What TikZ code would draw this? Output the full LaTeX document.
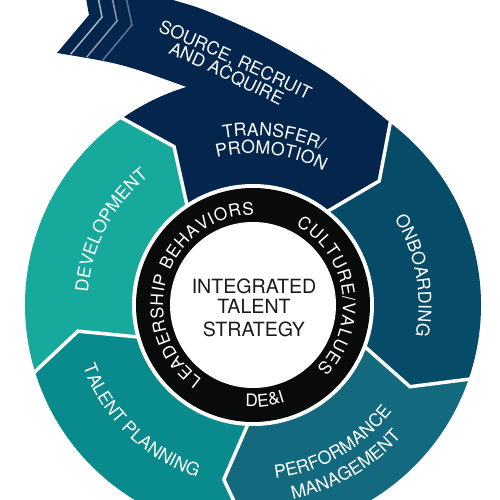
\documentclass[tikz,border=0pt]{standalone}
\usepackage{fontspec}
\setmainfont{TeX Gyre Heros}
\usetikzlibrary{decorations.text}
\definecolor{navyc}{HTML}{04264C}
\definecolor{onbc}{HTML}{064B67}
\definecolor{perfc}{HTML}{13697D}
\definecolor{tpc}{HTML}{098A8C}
\definecolor{devc}{HTML}{17A99B}
\definecolor{ringc}{HTML}{090B0B}
\definecolor{midtext}{HTML}{1A1A1A}
\definecolor{stripeA}{HTML}{A9B5C9}
\definecolor{stripeB}{HTML}{8C9BB4}
\definecolor{stripeC}{HTML}{5F7497}
\newcommand\labf{\fontsize{17.8}{17.8}\selectfont\color{white}}
\newcommand\ringf{\fontsize{17.3}{17.3}\selectfont\color{white}}
\newcommand\Ri{112pt}
\newcommand\Ro{228pt}
\newcommand\Rm{177pt}
\newcommand\dv{8.5}
\newcommand\mysegment[3]{\fill[#3] (#1:\Ri) -- ({#1-\dv}:\Rm) -- (#1:\Ro) arc[start angle=#1, end angle=#2, radius=\Ro] -- ({#2-\dv}:\Rm) -- (#2:\Ri) arc[start angle=#2, end angle=#1, radius=\Ri] -- cycle;}
\begin{document}
\begin{tikzpicture}[x=1pt,y=1pt,
  gap/.style={draw=white, line width=3.5pt, line join=miter, shorten <=-8pt, shorten >=-2pt},
  lab/.style={decorate, decoration={text along path, text align=center}},
  ringlab/.style={decorate, decoration={text along path, text align=fit to path}},
  stripe/.style={line width=1.5pt},
  midlab/.style={anchor=base, inner sep=0pt, text=midtext, font=\fontsize{19.6}{19.6}\selectfont}]
\useasboundingbox (-253,-195) rectangle (247,305);
\clip (-253,-195) rectangle (247,305);
% outer segments
\mysegment{197}{125}{devc}
\mysegment{53}{-19}{onbc}
\mysegment{-19}{-91}{perfc}
\mysegment{-91}{-163}{tpc}
% transfer / promotion and source band
\fill[navyc] (53:\Ri) -- ({53-\dv}:\Rm) -- (53:\Ro)
  -- plot[smooth] coordinates {(53:\Ro) (77,230) (12,268) (-46,294) (-80,305) (-113,314)}
  -- (-169,318) -- (-164,290) -- (-196,252)
  .. controls (-131,241.3) .. (107:\Ro)
  arc[start angle=107, end angle=125, radius=\Ro]
  -- ({125-\dv}:\Rm) -- (125:\Ri)
  arc[start angle=125, end angle=53, radius=\Ri] -- cycle;
% chevron stripes
\draw[stripe, stripeA, shorten >=1pt] (-156,313) -- (-151,288) -- (-183,250);
\draw[stripe, stripeB, shorten >=1pt] (-142,313) -- (-136,284) -- (-167,247);
\draw[stripe, stripeC, shorten >=1pt] (-128,313) -- (-121,280) -- (-151,244);
% white gaps between segments
\foreach \b in {125,53,-19,-91,197}
  \draw[gap] (\b:\Ro) -- ({\b-\dv}:\Rm) -- (\b:\Ri);
% central rings
\fill[white] (0,0) circle (121pt);
\fill[ringc] (0,0) circle (117pt);
\fill[white] (0,0) circle (83pt);
% ring texts
\path[ringlab, decoration={text={|\ringf|LEADERSHIP BEHAVIORS}}] (235.5:90pt) arc[start angle=235.5, end angle=89.2, radius=90pt];
\path[ringlab, decoration={text={|\ringf|CULTURE/VALUES}}] (61.6:90pt) arc[start angle=61.6, end angle=-44.9, radius=90pt];
\path[lab, decoration={text={|\ringf|DE{\&}I}}] (-113:102pt) arc[start angle=-113, end angle=-53, radius=102pt];
% centre text
\node[midlab] (c1) at (1,11.8) {INTEGRATED};
\node[midlab] (c2) at (1,-9) {TALENT};
\node[midlab] (c3) at (1,-31) {STRATEGY};
% segment labels
\path[lab, decoration={text={|\labf|DEVELOPMENT}}] (187.3:165.5pt) arc[start angle=187.3, end angle=117.3, radius=165.5pt];
\path[lab, decoration={text={|\labf|TRANSFER/}}] (118:169pt) arc[start angle=118, end angle=48, radius=169pt];
\path[lab, decoration={text={|\labf|PROMOTION}}] (118:151.5pt) arc[start angle=118, end angle=48, radius=151.5pt];
\path[lab, decoration={text={|\labf|ONBOARDING}}] (45.3:165.5pt) arc[start angle=45.3, end angle=-24.7, radius=165.5pt];
\path[lab, decoration={text={|\labf|TALENT PLANNING}}] (186:181pt) arc[start angle=186, end angle=266, radius=181pt];
\path[lab, decoration={text={|\labf|PERFORMANCE}}] (-100:175pt) arc[start angle=-100, end angle=-20, radius=175pt];
\path[lab, decoration={text={|\labf|MANAGEMENT}}] (-95:198.3pt) arc[start angle=-95, end angle=-25, radius=198.3pt];
\path[lab, decoration={text={|\labf|SOURCE{,} RECRUIT}}] (-114.6,282.3) .. controls (-22.5,242) .. (73.6,195.7);
\path[lab, decoration={text={|\labf|AND ACQUIRE}}] (-110.9,263.4) .. controls (-29.5,227) .. (51.9,186.6);
\end{tikzpicture}
\end{document}
